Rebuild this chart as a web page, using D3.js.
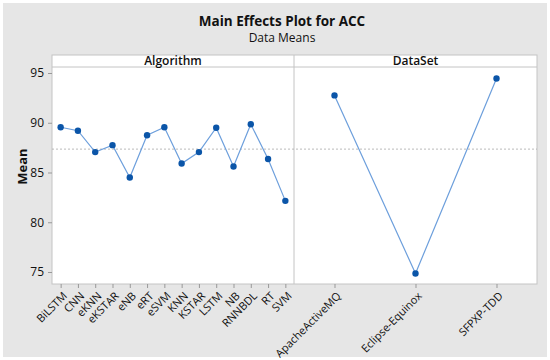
<!DOCTYPE html>
<html>
<head>
<meta charset="utf-8">
<script src="https://cdn.jsdelivr.net/npm/d3@7"></script>
<style>
	body { margin: 0; background: #fff; }
	svg { display: block; font-family: "Open Sans", "Noto Sans", sans-serif; }
</style>
</head>
<body>
<div id="root"></div>
<script>
const algorithms = ["BiLSTM","CNN","eKNN","eKSTAR","eNB","eRT","eSVM","KNN","KSTAR","LSTM","NB","RNNBDL","RT","SVM"]
const algorithmMeans = [89.55, 89.2, 87.05, 87.75, 84.5, 88.75, 89.55, 85.9, 87.05, 89.5, 85.6, 89.85, 86.35, 82.15]
const datasets = ["ApacheActiveMQ","Eclipse-Equinox","SFPXP-TDD"]
const datasetMeans = [92.75, 74.85, 94.45]
const yTicks = [75, 80, 85, 90, 95]
const grandMean = 87.35

const width = 550,
	height = 360

const plot = { left: 52, right: 537, top: 55, strip: 12, bottom: 284 },
	divider = 294

const panels = [
	{ name: "Algorithm", levels: algorithms, values: algorithmMeans, x0: plot.left, x1: divider },
	{ name: "DataSet", levels: datasets, values: datasetMeans, x0: divider, x1: plot.right },
]

const svg = d3.select('#root')
	.append('svg')
	.attr('width', width)
	.attr('height', height)

svg.append('rect')
	.attr('x', 3).attr('y', 3)
	.attr('width', 544).attr('height', 354)
	.attr('fill', '#e6e6e6')

svg.append('text')
	.attr('x', 282).attr('y', 26)
	.attr('text-anchor', 'middle')
	.style('font-size', '13.5px')
	.style('font-weight', 'bold')
	.attr('fill', '#111')
	.text('Main Effects Plot for ACC')

svg.append('text')
	.attr('x', 282).attr('y', 42)
	.attr('text-anchor', 'middle')
	.style('font-size', '12px')
	.attr('fill', '#111')
	.text('Data Means')

const y = d3.scaleLinear()
	.domain([75, 95])
	.range([272, 73])

// white plotting area + strips
svg.append('rect')
	.attr('x', plot.left).attr('y', plot.top)
	.attr('width', plot.right - plot.left).attr('height', plot.bottom - plot.top)
	.attr('fill', '#fff')
	.attr('stroke', '#c4c4c4')

svg.append('line')
	.attr('x1', plot.left).attr('x2', plot.right)
	.attr('y1', plot.top + plot.strip).attr('y2', plot.top + plot.strip)
	.attr('stroke', '#c4c4c4')

svg.append('line')
	.attr('x1', divider).attr('x2', divider)
	.attr('y1', plot.top).attr('y2', plot.bottom)
	.attr('stroke', '#c4c4c4')

// y axis
const yAxis = svg.append('g')
	.attr('transform', `translate(${plot.left},0)`)
	.call(d3.axisLeft(y).tickValues(yTicks).tickSize(4).tickPadding(4))
yAxis.select('.domain').remove()
yAxis.selectAll('line').attr('stroke', '#999')
yAxis.selectAll('text')
	.style('font-size', '12px')
	.style('font-family', '"Open Sans", sans-serif')
	.attr('fill', '#111')

svg.append('text')
	.attr('transform', `translate(22,${(plot.top + plot.bottom) / 2 - 3}) rotate(-90)`)
	.attr('text-anchor', 'middle')
	.attr('dy', '0.35em')
	.style('font-size', '13px')
	.style('font-weight', 'bold')
	.attr('fill', '#111')
	.text('Mean')

// grand mean reference
svg.append('line')
	.attr('x1', plot.left).attr('x2', plot.right)
	.attr('y1', y(grandMean)).attr('y2', y(grandMean))
	.attr('stroke', '#aaa')
	.attr('stroke-width', 0.8)
	.attr('stroke-dasharray', '2,2')

panels.forEach(p => {
	const x = d3.scalePoint()
		.domain(p.levels)
		.range([p.x0, p.x1])
		.padding(0.5)

	svg.append('text')
		.attr('x', (p.x0 + p.x1) / 2)
		.attr('y', plot.top + plot.strip / 2)
		.attr('dy', '0.35em')
		.attr('text-anchor', 'middle')
		.style('font-size', '12px')
		.style('font-weight', '600')
		.attr('fill', '#111')
		.text(p.name)

	const xAxis = svg.append('g')
		.attr('transform', `translate(0,${plot.bottom})`)
		.call(d3.axisBottom(x).tickSize(4).tickPadding(3))
	xAxis.select('.domain').remove()
	xAxis.selectAll('line').attr('stroke', '#999')
	xAxis.selectAll('text')
		.style('font-size', '11px')
		.style('font-family', '"Open Sans", sans-serif')
		.attr('fill', '#111')
		.attr('text-anchor', 'end')
		.attr('dy', '0.72em')
		.attr('transform', 'translate(1,7) rotate(-45)')
		.attr('y', 0)
		.attr('x', 0)

	const pts = p.levels.map((l, i) => [x(l), y(p.values[i])])

	svg.append('path')
		.attr('d', d3.line()(pts))
		.attr('fill', 'none')
		.attr('stroke', '#6d9fdc')
		.attr('stroke-width', 1.2)

	svg.selectAll(null)
		.data(pts)
		.enter()
		.append('circle')
		.attr('cx', d => d[0])
		.attr('cy', d => d[1])
		.attr('r', 3.2)
		.attr('fill', '#0b55a8')
})
</script>
</body>
</html>
